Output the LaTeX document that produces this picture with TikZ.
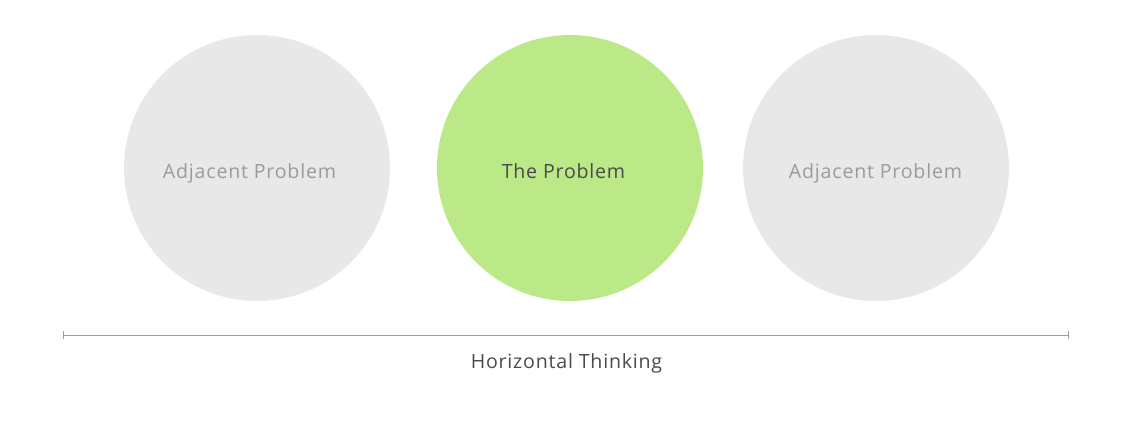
\documentclass[tikz,border=0pt]{standalone}
\usepackage{fontspec}
\setmainfont{Open Sans}[LetterSpace=4]
\usetikzlibrary{positioning}
\definecolor{circlegrey}{HTML}{E8E8E8}
\definecolor{problemgreen}{HTML}{BBE987}
\definecolor{labelgrey}{HTML}{9B9B9B}
\definecolor{labeldark}{HTML}{4A4A4A}
\definecolor{axisgrey}{HTML}{9E9E9E}
\tikzset{
  problem/.style={circle,minimum size=266pt,inner sep=0pt},
  adjacent/.style={problem,fill=circlegrey},
  central/.style={problem,fill=problemgreen},
  caption/.style={inner sep=0pt,anchor=base,font=\fontsize{19.6}{22}\selectfont},
}
\begin{document}
\begin{tikzpicture}[x=1pt,y=-1pt]
    \useasboundingbox (0,0) rectangle (1134,437);
    \node[adjacent] (left)   at (257,168) {};
    \node[central]  (middle) at (570,168) {};
    \node[adjacent] (right)  at (876,168) {};
    % circle texts, baseline a little below the centres
    \node[caption,text=labelgrey] (leftlabel)   at ([xshift=-7.5pt,yshift=-10.5pt]left.center)   {Adjacent Problem};
    \node[caption,text=labeldark] (middlelabel) at ([xshift=-6.5pt,yshift=-10.5pt]middle.center) {The Problem};
    \node[caption,text=labelgrey] (rightlabel)  at ([xshift=-0.5pt,yshift=-10.5pt]right.center)  {Adjacent Problem};
    % horizontal axis
    \coordinate (axisstart) at (63,335);
    \coordinate (axisend)   at (1069,335);
    \draw[axisgrey,line width=1pt,|-|] (axisstart) -- (axisend);
    \node[caption,text=labeldark] (axislabel) at (566.5,368) {Horizontal Thinking};
\end{tikzpicture}
\end{document}
